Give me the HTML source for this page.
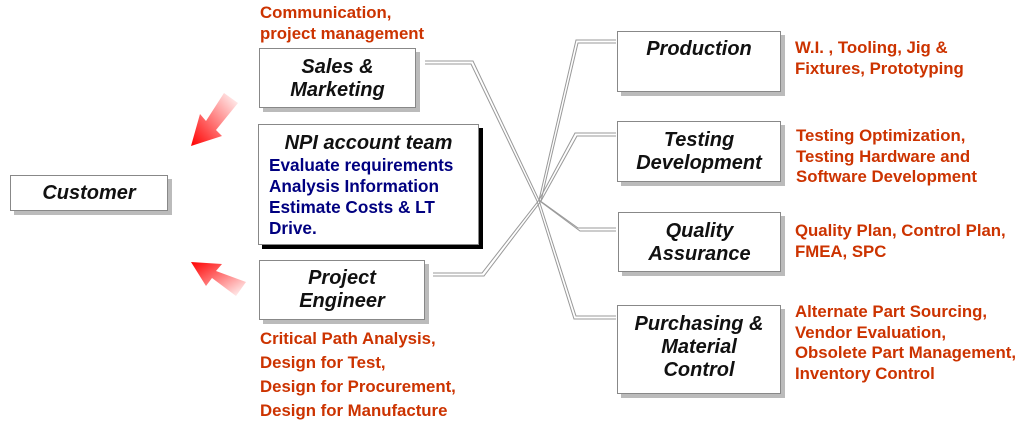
<!DOCTYPE html>
<html><head><meta charset="utf-8"><style>
body{margin:0;width:1024px;height:422px;background:#fff;position:relative;overflow:hidden;font-family:"Liberation Sans",sans-serif}
.b{position:absolute;background:#fff;border:1px solid #888;box-shadow:4px 4px 0 #bbb;box-sizing:border-box;text-align:center;font-weight:bold;font-style:italic;font-size:20px;line-height:23px;color:#111;white-space:nowrap}
.r{position:absolute;color:#cc3300;font-weight:bold;font-size:16.8px;line-height:20.5px;white-space:nowrap}
svg{position:absolute;left:0;top:0}
</style></head><body>
<svg width="1024" height="422">
<defs>
<linearGradient id="g1" x1="1" y1="0" x2="0" y2="1"><stop offset="0" stop-color="#f00" stop-opacity="0"/><stop offset="1" stop-color="#f00"/></linearGradient>
<linearGradient id="g2" x1="1" y1="1" x2="0" y2="0"><stop offset="0" stop-color="#f00" stop-opacity="0"/><stop offset="1" stop-color="#f00"/></linearGradient>
</defs>
<g fill="none" stroke="#999" stroke-width="1">
<path d="M425 61 H473 L539 200 L576 316 H616"/>
<path d="M425 64 H471 L537 201 L574 319 H616"/>
<path d="M433 273 H482 L539 200 L576 40 H616"/>
<path d="M433 276 H484 L541 201 L578 43 H616"/>
<path d="M539 200 L575 133 H616"/>
<path d="M541 201 L577 136 H616"/>
<path d="M539 200 L578 228 H616"/>
<path d="M541 202 L580 231 H616"/>
</g>
<polygon points="224,93 238,103 216,130 222,136 191,146 200,114 206,121" fill="url(#g1)"/>
<polygon points="246,282 236,296 212,278 206,286 191,262 222,264 216,271" fill="url(#g2)"/>
</svg>
<div class="r" style="left:260px;top:3px">Communication,<br>project management</div>
<div class="b" style="left:10px;top:175px;width:158px;height:36px;line-height:34px">Customer</div>
<div class="b" style="left:259px;top:48px;width:157px;height:60px;padding-top:7px">Sales &amp;<br>Marketing</div>
<div class="b" style="left:258px;top:124px;width:221px;height:121px;box-shadow:4px 4px 0 #000;text-align:left;padding:7px 0 0 10px">
<div style="text-align:center;padding-right:10px">NPI account team</div>
<div style="color:#000080;font-style:normal;font-size:17.2px;line-height:21px">Evaluate requirements<br>Analysis Information<br>Estimate Costs &amp; LT<br>Drive.</div></div>
<div class="b" style="left:259px;top:260px;width:166px;height:60px;padding-top:6px">Project<br>Engineer</div>
<div class="r" style="left:260px;top:327px;line-height:24px">Critical Path Analysis,<br>Design for Test,<br>Design for Procurement,<br>Design for Manufacture</div>
<div class="b" style="left:617px;top:31px;width:164px;height:61px;padding-top:6px">Production</div>
<div class="b" style="left:617px;top:121px;width:164px;height:61px;padding-top:7px">Testing<br>Development</div>
<div class="b" style="left:618px;top:212px;width:163px;height:60px;padding-top:7px">Quality<br>Assurance</div>
<div class="b" style="left:617px;top:305px;width:164px;height:89px;padding-top:7px">Purchasing &amp;<br>Material<br>Control</div>
<div class="r" style="left:795px;top:38px">W.I. , Tooling, Jig &amp;<br>Fixtures, Prototyping</div>
<div class="r" style="left:796px;top:126px">Testing Optimization,<br>Testing Hardware and<br>Software Development</div>
<div class="r" style="left:795px;top:221px">Quality Plan, Control Plan,<br>FMEA, SPC</div>
<div class="r" style="left:795px;top:302px">Alternate Part Sourcing,<br>Vendor Evaluation,<br>Obsolete Part Management,<br>Inventory Control</div>
</body></html>
